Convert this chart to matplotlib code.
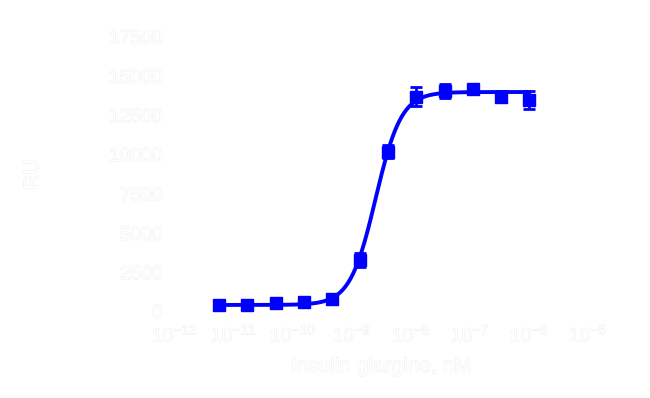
import numpy as np
import matplotlib
matplotlib.use("Agg")
import matplotlib.pyplot as plt
import matplotlib.patheffects as pe

# Data (3-fold dilution series, top = 1e-6)
conc = [5.65e-12, 1.69e-11, 5.08e-11, 1.52e-10, 4.57e-10, 1.37e-9,
        4.12e-9, 1.23e-8, 3.70e-8, 1.11e-7, 3.33e-7, 1.0e-6]
response = [445, 445, 550, 660, 830, 3310, 10200, 13700, 14060, 14190, 13700, 13490]
sem = [120, 120, 120, 130, 150, 450, 400, 600, 450, 250, 350, 600]

# Four-parameter logistic fit parameters
fit_bottom = 450
fit_top = 14000
fit_logec50 = -8.6
fit_hill = 2.0

xticks = [1e-12, 1e-11, 1e-10, 1e-9, 1e-8, 1e-7, 1e-6, 1e-5]
xtick_labels = [r"$10^{-12}$", r"$10^{-11}$", r"$10^{-10}$", r"$10^{-9}$",
                r"$10^{-8}$", r"$10^{-7}$", r"$10^{-6}$", r"$10^{-5}$"]
yticks = [0, 2500, 5000, 7500, 10000, 12500, 15000, 17500]

x_label = "Insulin glargine, nM"
y_label = "RU"

plt.rcParams['font.family'] = ['Liberation Sans', 'DejaVu Sans']
plt.rcParams['mathtext.fontset'] = 'custom'
plt.rcParams['mathtext.rm'] = 'Liberation Sans'
plt.rcParams['mathtext.it'] = 'Liberation Sans'

fig = plt.figure(figsize=(6.5, 3.98), dpi=100)
ax = fig.add_axes([0.269, 0.216, 0.636, 0.691])

blue = '#0000ff'
lx = np.linspace(np.log10(conc[0]), np.log10(conc[-1]), 400)
ly = fit_bottom + (fit_top - fit_bottom) / (1 + 10 ** ((fit_logec50 - lx) * fit_hill))
ax.plot(10 ** lx, ly, color=blue, lw=2.8, zorder=2)
ax.errorbar(conc, response, yerr=sem, fmt='s', color=blue, ms=8.5,
            elinewidth=2, capsize=4, capthick=2, zorder=3)

ax.set_xscale('log')
ax.set_xlim(1e-12, 1e-5)
ax.set_ylim(0, 17500)
ax.set_xticks(xticks)
ax.set_xticklabels(xtick_labels)
ax.minorticks_off()
ax.set_yticks(yticks)
ax.set_yticklabels([str(v) for v in yticks])

fx = [pe.withStroke(linewidth=0.6, foreground='#ececec')]
for lab in ax.get_xticklabels() + ax.get_yticklabels():
    lab.set_color('white')
    lab.set_fontsize(14)
    lab.set_path_effects(fx)
ax.tick_params(colors='white', length=5, width=1)
for s in ax.spines.values():
    s.set_color('white')
ax.set_xlabel(x_label, color='white', fontsize=15, labelpad=8, path_effects=fx)
ax.set_ylabel(y_label, color='white', fontsize=15, labelpad=48, path_effects=fx)

fig.savefig('out.png', dpi=100, facecolor='white')
